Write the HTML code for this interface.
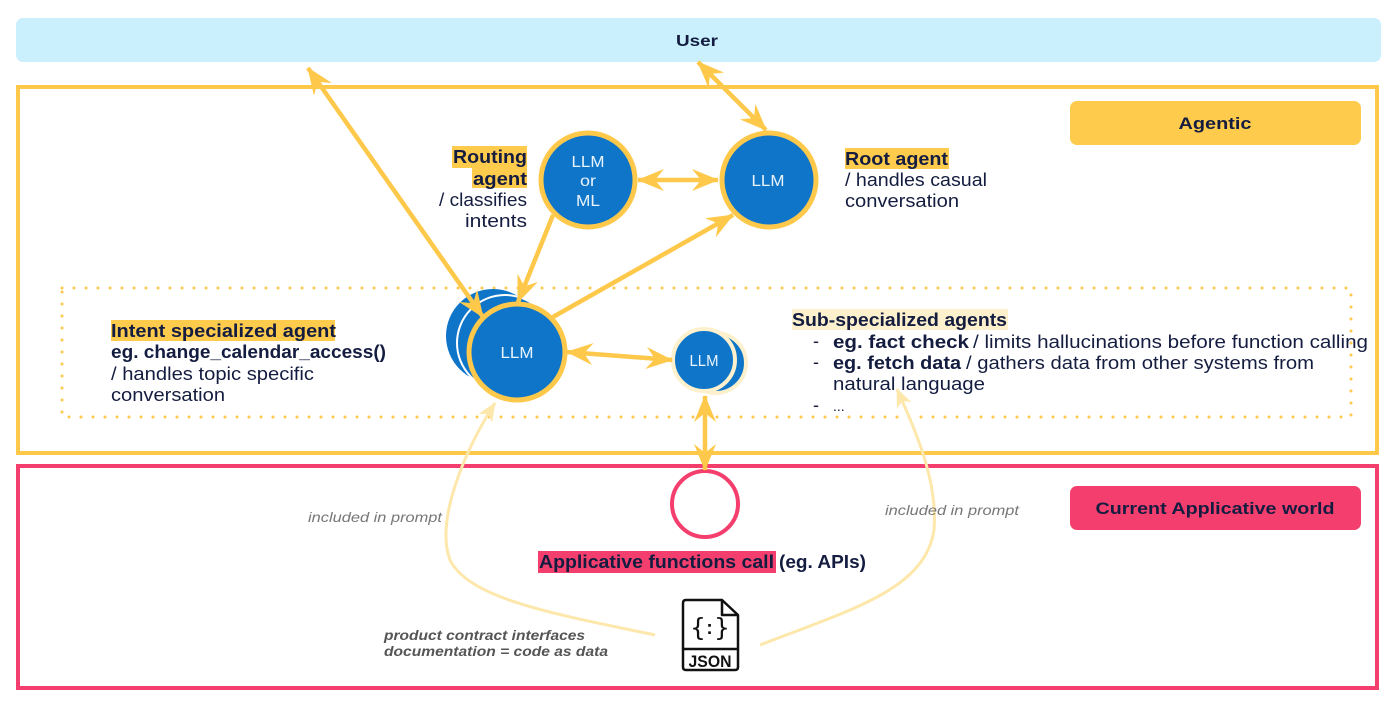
<!DOCTYPE html>
<html><head><meta charset="utf-8"><style>
html,body{margin:0;padding:0;background:#fff}
svg{display:block}
text{font-family:"Liberation Sans",sans-serif;fill:#141d40;font-size:18px}
.b{font-weight:bold}
.w{fill:#e8f3fb;font-size:16px;text-anchor:middle}
.g{fill:#777;font-style:italic;font-size:13.5px}
</style></head><body>
<svg width="1400" height="703" viewBox="0 0 1400 703" xmlns="http://www.w3.org/2000/svg">
<defs>
<marker id="a" markerUnits="userSpaceOnUse" markerWidth="30" markerHeight="24" refX="26" refY="12" viewBox="0 0 30 24" orient="auto-start-reverse"><path d="M27 12 L0 1 L9 12 L0 23Z" fill="#fec84b"/></marker>
<marker id="p" markerUnits="userSpaceOnUse" markerWidth="24" markerHeight="20" refX="20" refY="10" viewBox="0 0 24 20" orient="auto-start-reverse"><path d="M21 10 L2 2 L7 10 L2 18Z" fill="#fde7ab"/></marker>
</defs>
<rect width="1400" height="703" fill="#fff"/>
<rect x="16" y="18" width="1365" height="44" rx="7" fill="#caf0fe"/>
<text x="697" y="46" class="b" text-anchor="middle" style="font-size:16px" textLength="42" lengthAdjust="spacingAndGlyphs">User</text>
<rect x="18" y="87" width="1359" height="366" fill="none" stroke="#fec84b" stroke-width="4"/>
<rect x="18" y="466" width="1359" height="222" fill="none" stroke="#f43f6e" stroke-width="4"/>
<rect x="62" y="288" width="1289" height="129" fill="none" stroke="#fec84b" stroke-width="3" stroke-linecap="round" stroke-dasharray="0 12"/>
<rect x="1070" y="101" width="291" height="44" rx="7" fill="#fecb4d"/>
<text x="1215" y="129" class="b" text-anchor="middle" style="font-size:17px" textLength="73" lengthAdjust="spacingAndGlyphs">Agentic</text>
<rect x="1070" y="486" width="291" height="44" rx="7" fill="#f43f6e"/>
<text x="1215" y="514" class="b" text-anchor="middle" style="font-size:17px" textLength="239" lengthAdjust="spacingAndGlyphs">Current Applicative world</text>

<!-- pale curves -->
<path d="M655 635C560 615 470 600 450 560C435 520 465 450 495 403" fill="none" stroke="#fde7ab" stroke-width="3" marker-end="url(#p)"/>
<path d="M760 645C850 610 925 590 934 530C938 480 915 430 897 389" fill="none" stroke="#fde7ab" stroke-width="3" marker-end="url(#p)"/>

<!-- back circles -->
<circle cx="493" cy="336" r="47" fill="#0f75c8"/>
<circle cx="505" cy="343" r="48" fill="#0f75c8" stroke="#fff" stroke-width="2"/>
<circle cx="716" cy="363" r="30" fill="#0f75c8" stroke="#fdf0cd" stroke-width="4"/>

<!-- circles -->
<circle cx="588" cy="180" r="47" fill="#0f75c8" stroke="#fec84b" stroke-width="5"/>
<circle cx="769" cy="180" r="47" fill="#0f75c8" stroke="#fec84b" stroke-width="5"/>
<circle cx="517" cy="352" r="48" fill="#0f75c8" stroke="#fec84b" stroke-width="5"/>
<circle cx="704" cy="360" r="31" fill="#0f75c8" stroke="#fdf0cd" stroke-width="4"/>
<circle cx="705" cy="504" r="33" fill="#fff" stroke="#f43f6e" stroke-width="4"/>

<!-- arrows -->
<g fill="none" stroke="#fec84b" stroke-width="4.5">
<line x1="308" y1="68" x2="483" y2="317" marker-start="url(#a)" marker-end="url(#a)"/>
<line x1="698" y1="62" x2="766" y2="130" marker-start="url(#a)" marker-end="url(#a)"/>
<line x1="638" y1="180" x2="718" y2="180" marker-start="url(#a)" marker-end="url(#a)"/>
<line x1="553" y1="215" x2="518" y2="302" marker-end="url(#a)"/>
<line x1="553" y1="317" x2="733" y2="215" marker-end="url(#a)"/>
<line x1="567" y1="352" x2="672" y2="360" marker-start="url(#a)" marker-end="url(#a)"/>
<line x1="705" y1="396" x2="705" y2="470" marker-start="url(#a)" marker-end="url(#a)"/>
</g>

<!-- LLM labels -->
<text x="588" y="167" class="w" textLength="33" lengthAdjust="spacingAndGlyphs">LLM</text>
<text x="588" y="186" class="w" textLength="16" lengthAdjust="spacingAndGlyphs">or</text>
<text x="588" y="206" class="w" textLength="24" lengthAdjust="spacingAndGlyphs">ML</text>
<text x="768" y="186" class="w" textLength="33" lengthAdjust="spacingAndGlyphs">LLM</text>
<text x="517" y="358" class="w" textLength="33" lengthAdjust="spacingAndGlyphs">LLM</text>
<text x="704" y="366" class="w" textLength="29" lengthAdjust="spacingAndGlyphs">LLM</text>

<!-- routing -->
<rect x="452" y="146" width="75" height="22" fill="#fecb4d"/>
<rect x="472" y="168" width="55" height="20" fill="#fecb4d"/>
<text x="527" y="163" class="b" text-anchor="end" textLength="74" lengthAdjust="spacingAndGlyphs">Routing</text>
<text x="527" y="185" class="b" text-anchor="end" textLength="54" lengthAdjust="spacingAndGlyphs">agent</text>
<text x="527" y="206" text-anchor="end" textLength="88" lengthAdjust="spacingAndGlyphs">/ classifies</text>
<text x="527" y="227" text-anchor="end" textLength="62" lengthAdjust="spacingAndGlyphs">intents</text>

<!-- root -->
<rect x="845" y="148" width="104" height="21" fill="#fecb4d"/>
<text x="845" y="165" class="b" textLength="103" lengthAdjust="spacingAndGlyphs">Root agent</text>
<text x="845" y="186" textLength="142" lengthAdjust="spacingAndGlyphs">/ handles casual</text>
<text x="845" y="207" textLength="114" lengthAdjust="spacingAndGlyphs">conversation</text>

<!-- intent -->
<rect x="111" y="320" width="224" height="21" fill="#fecb4d"/>
<text x="111" y="337" class="b" textLength="225" lengthAdjust="spacingAndGlyphs">Intent specialized agent</text>
<text x="111" y="358" class="b" textLength="275" lengthAdjust="spacingAndGlyphs">eg. change_calendar_access()</text>
<text x="111" y="380" textLength="203" lengthAdjust="spacingAndGlyphs">/ handles topic specific</text>
<text x="111" y="401" textLength="114" lengthAdjust="spacingAndGlyphs">conversation</text>

<!-- sub -->
<rect x="792" y="309" width="216" height="21" fill="#fdf0cd"/>
<text x="792" y="326" class="b" textLength="215" lengthAdjust="spacingAndGlyphs">Sub-specialized agents</text>
<text x="813" y="347">-</text>
<text x="833" y="348" class="b" textLength="136" lengthAdjust="spacingAndGlyphs">eg. fact  check</text>
<text x="973" y="348" textLength="395" lengthAdjust="spacingAndGlyphs">/ limits hallucinations before function calling</text>
<text x="813" y="368">-</text>
<text x="833" y="369" class="b" textLength="128" lengthAdjust="spacingAndGlyphs">eg. fetch data</text>
<text x="966" y="369" textLength="348" lengthAdjust="spacingAndGlyphs">/ gathers data from other systems from</text>
<text x="833" y="390" textLength="152" lengthAdjust="spacingAndGlyphs">natural language</text>
<text x="813" y="411">-</text>
<text x="833" y="411" style="font-size:14px">...</text>

<!-- function -->
<rect x="538" y="551" width="238" height="22" fill="#f43f6e"/>
<text x="539" y="568" class="b" textLength="235" lengthAdjust="spacingAndGlyphs">Applicative functions call</text>
<text x="779" y="568" class="b" textLength="87" lengthAdjust="spacingAndGlyphs">(eg. APIs)</text>

<text x="308" y="522" class="g" textLength="134" lengthAdjust="spacingAndGlyphs">included in prompt</text>
<text x="885" y="515" class="g" textLength="134" lengthAdjust="spacingAndGlyphs">included in prompt</text>
<text x="384" y="640" class="b" style="fill:#555;font-style:italic;font-size:13.5px" textLength="201" lengthAdjust="spacingAndGlyphs">product contract interfaces</text>
<text x="384" y="656" class="b" style="fill:#555;font-style:italic;font-size:13.5px" textLength="224" lengthAdjust="spacingAndGlyphs">documentation = code as data</text>

<!-- JSON icon -->
<path d="M722 600H686Q683 600 683 603V667Q683 670 686 670H735Q738 670 738 667V615L722 600V615H738M683 649H738" fill="none" stroke="#111" stroke-width="2.5" stroke-linejoin="round"/>
<text x="698" y="636" text-anchor="middle" style="font-size:25px;fill:#111;font-family:'DejaVu Sans',sans-serif">{</text>
<text x="709.5" y="634" text-anchor="middle" style="font-size:19px;fill:#111;font-weight:bold">:</text>
<text x="722" y="636" text-anchor="middle" style="font-size:25px;fill:#111;font-family:'DejaVu Sans',sans-serif">}</text>
<text x="710" y="667" text-anchor="middle" class="b" style="font-size:17px;fill:#111" textLength="43" lengthAdjust="spacingAndGlyphs">JSON</text>
</svg>
</body></html>
